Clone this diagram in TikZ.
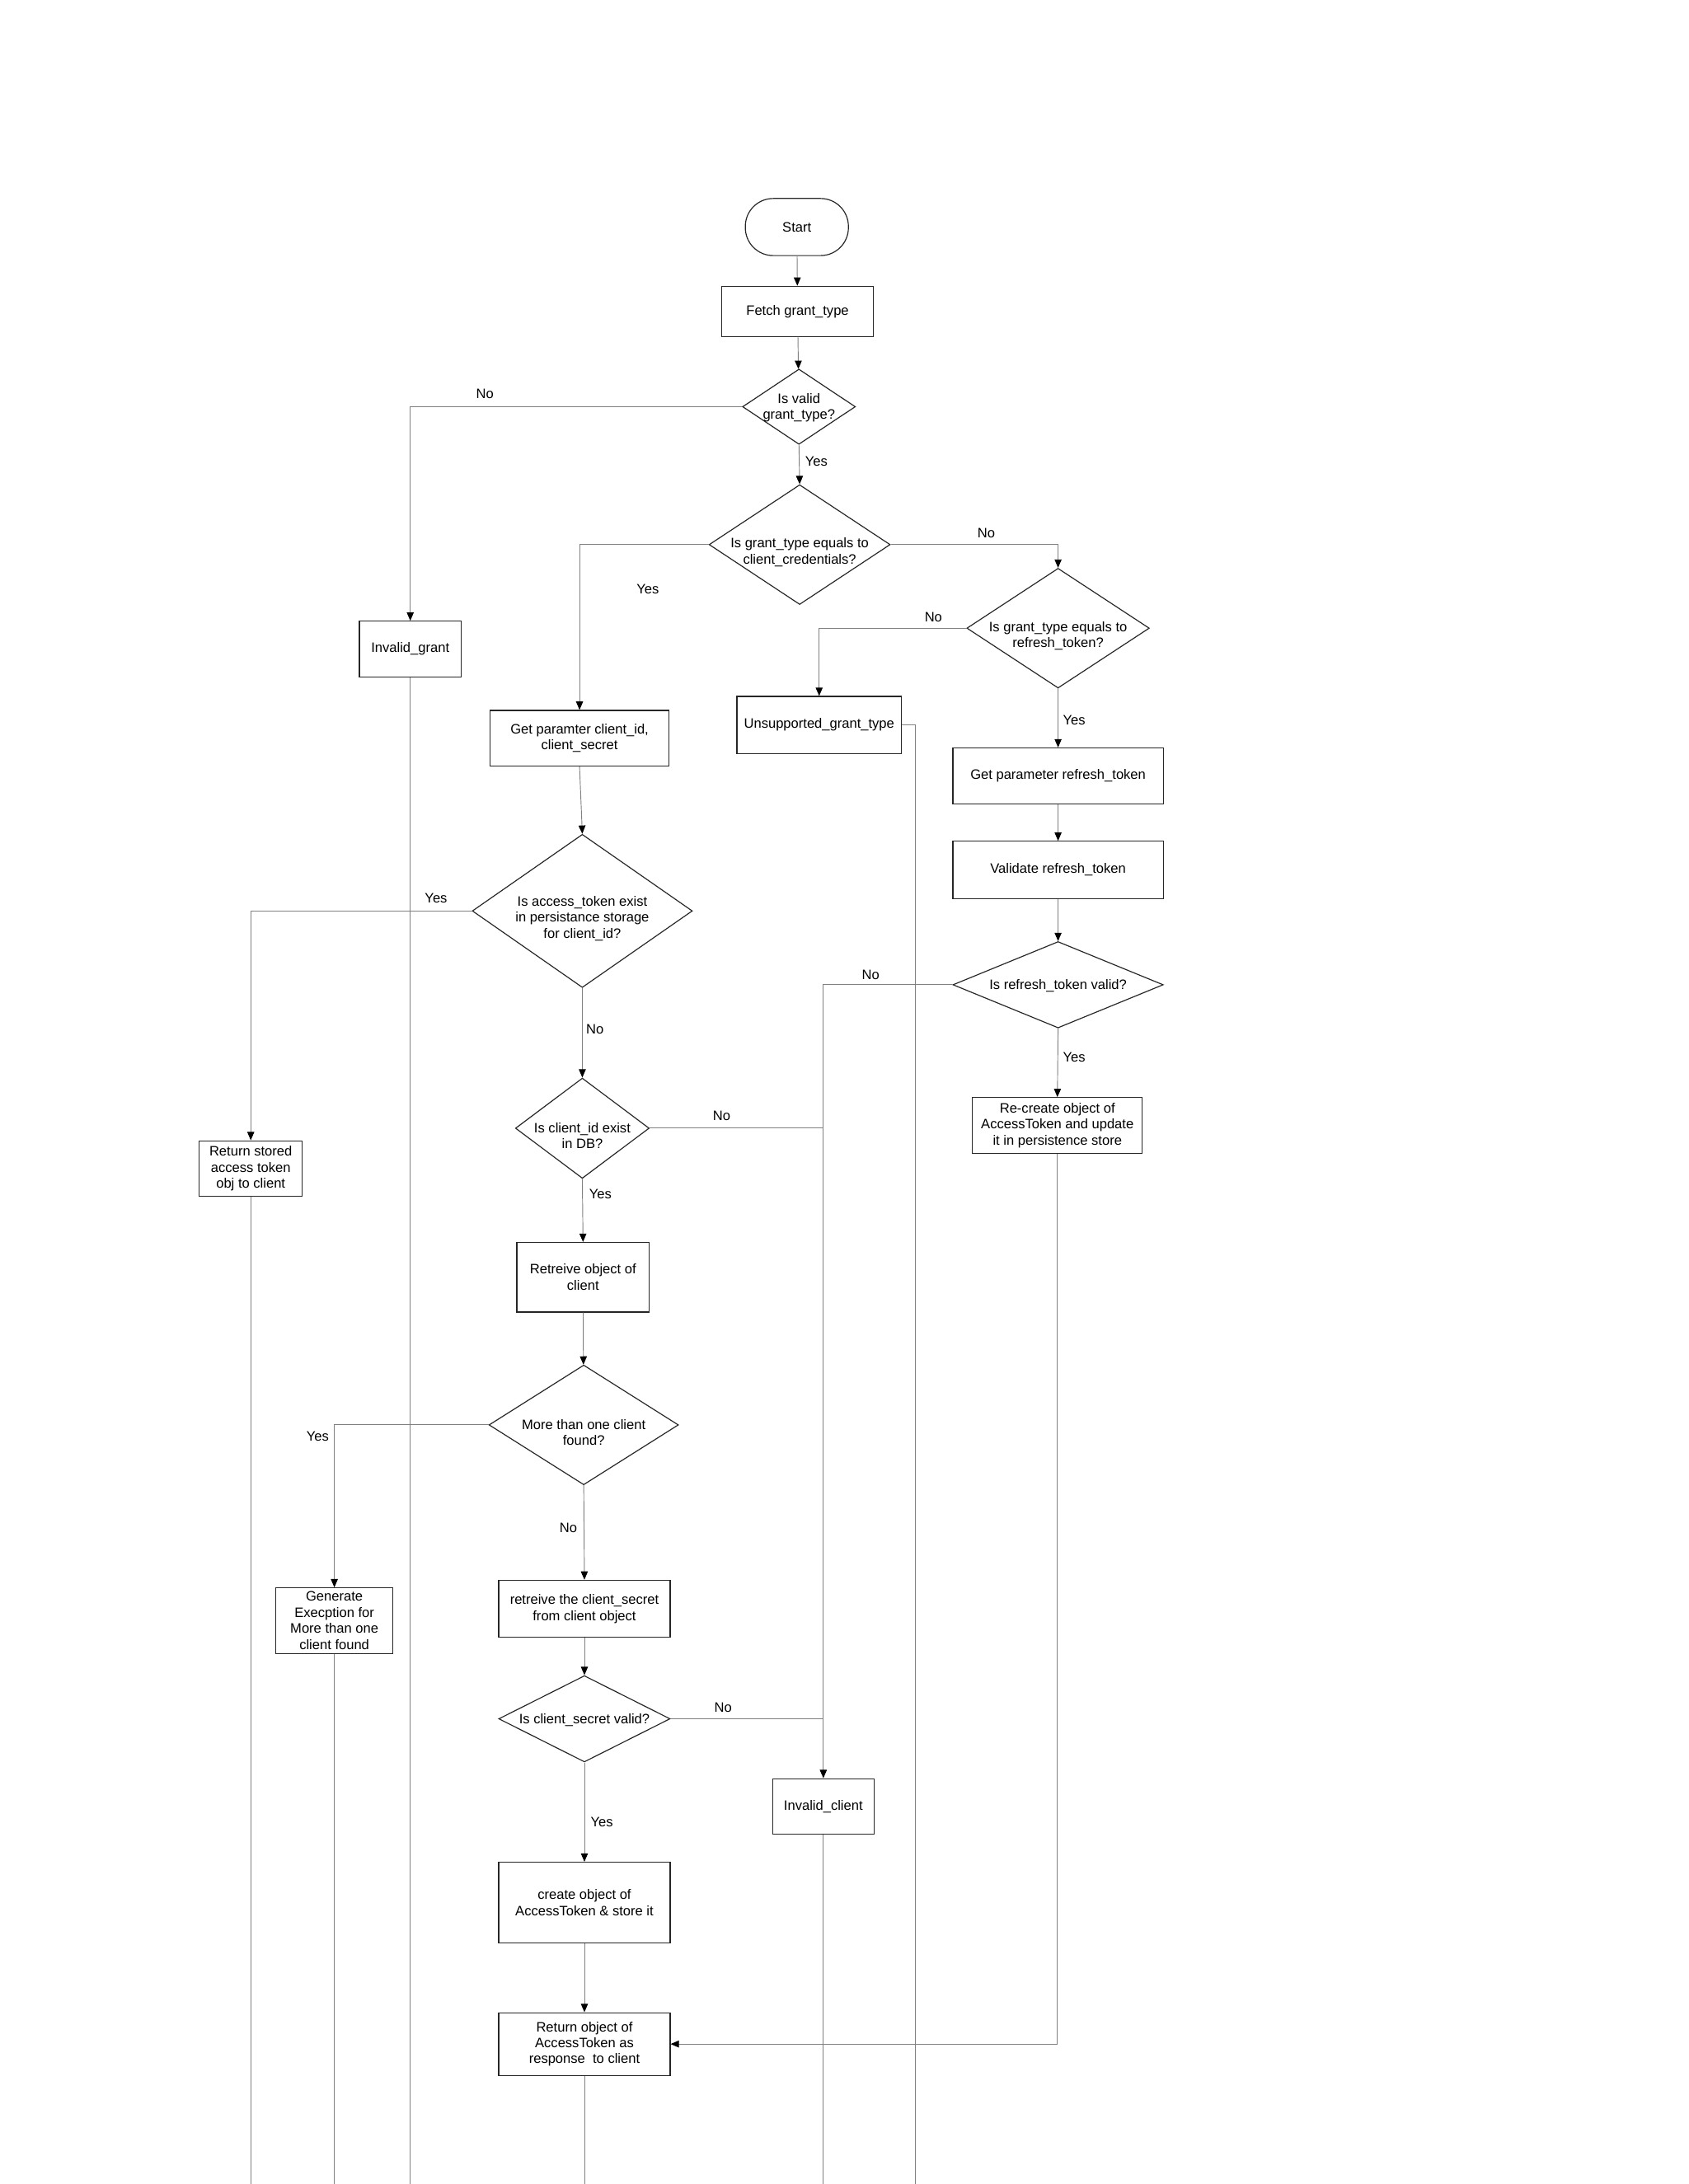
\documentclass[tikz,border=0pt]{standalone}
\usepackage{fontspec}
\setmainfont{Liberation Sans}
\usetikzlibrary{shapes.geometric,arrows.meta}
\definecolor{boxcol}{HTML}{262626}
\definecolor{linecol}{HTML}{808080}
\newcommand{\lblfont}{\fontsize{9.8}{11.5}\selectfont}
\begin{document}
\begin{tikzpicture}[x=1pt,y=-1pt,
  box/.style={draw=boxcol, line width=0.7pt, rectangle, inner sep=0pt, align=center, font=\lblfont},
  dec/.style={draw=boxcol, line width=0.7pt, diamond, inner sep=0pt},
  conn/.style={draw=linecol, line width=0.55pt},
  arr/.style={conn, -{Triangle[length=6pt,width=5pt,color=black]}},
  tag/.style={font=\lblfont, inner sep=0pt, align=center},
  low/.style={tag, yshift=-5.5pt},
]
\path[fill=white] (0,0) rectangle (1212,1568);
\useasboundingbox (0,0) rectangle (1212,1568);

% nodes
\node[box, rounded corners=20pt, minimum width=74pt, minimum height=41pt] (start) at (572,163) {Start};
\node[box, minimum width=109pt, minimum height=36pt] (fetch) at (572.5,223.5) {Fetch grant\_type};
\node[dec, minimum width=81pt, minimum height=54pt, label={[tag, yshift=-0.8pt]center:{Is valid\\grant\_type?}}] (valid) at (573.5,292) {};
\node[dec, minimum width=130pt, minimum height=86pt, label={[low]center:{Is grant\_type equals to\\client\_credentials?}}] (cc) at (574,391) {};
\node[dec, minimum width=131pt, minimum height=86pt, label={[low]center:{Is grant\_type equals to\\refresh\_token?}}] (rt) at (759.5,451) {};
\node[box, minimum width=73pt, minimum height=40pt] (invgrant) at (294.5,466) {Invalid\_grant};
\node[box, minimum width=118pt, minimum height=41pt] (unsup) at (588,520.5) {Unsupported\_grant\_type};
\node[box, minimum width=128pt, minimum height=40pt] (getcid) at (416,530) {Get paramter client\_id,\\client\_secret};
\node[box, minimum width=151pt, minimum height=40pt] (getrt) at (759.5,557) {Get parameter refresh\_token};
\node[box, minimum width=151pt, minimum height=41pt] (valrt) at (759.5,624.5) {Validate refresh\_token};
\node[dec, minimum width=158pt, minimum height=110pt, label={[low]center:{Is access\_token exist\\in persistance storage\\for client\_id?}}] (atex) at (418,654) {};
\node[dec, minimum width=151pt, minimum height=62pt, label={[tag, yshift=-0.8pt]center:{Is refresh\_token valid?}}] (rtvalid) at (759.5,707) {};
\node[box, minimum width=122pt, minimum height=40pt] (recreate) at (759,808) {Re-create object of\\AccessToken and update\\it in persistence store};
\node[dec, minimum width=96pt, minimum height=72pt, label={[low]center:{Is client\_id exist\\in DB?}}] (cidb) at (418,810) {};
\node[box, minimum width=74pt, minimum height=40pt] (retstored) at (180,839) {Return stored\\access token\\obj to client};
\node[box, minimum width=95pt, minimum height=50pt] (retr) at (418.5,917) {Retreive object of\\client};
\node[dec, minimum width=136pt, minimum height=86pt, label={[low]center:{More than one client\\found?}}] (more) at (419,1023) {};
\node[box, minimum width=84pt, minimum height=47pt] (gen) at (240,1163.5) {Generate\\Execption for\\More than one\\client found};
\node[box, minimum width=123pt, minimum height=41pt] (rsec) at (419.5,1155) {retreive the client\_secret\\from client object};
\node[dec, minimum width=123pt, minimum height=62pt, label={[tag, yshift=-0.8pt]center:{Is client\_secret valid?}}] (secvalid) at (419.5,1234) {};
\node[box, minimum width=73pt, minimum height=40pt] (invclient) at (591,1297) {Invalid\_client};
\node[box, minimum width=123pt, minimum height=58pt] (create) at (419.5,1366) {create object of\\AccessToken \& store it};
\node[box, minimum width=123pt, minimum height=45pt] (retobj) at (419.5,1467.5) {Return object of\\AccessToken as\\response~ to client};

\coordinate (bot) at (0,1568);
\coordinate (ujog) at (657,520.5);

% connectors
\draw[arr] (start) -- (fetch);
\draw[arr] (fetch) -- (valid);
\draw[arr] (valid.west) -| (invgrant.north);
\draw[arr] (valid.south) -- (cc.north);
\draw[arr] (cc.west) -| (getcid.north);
\draw[arr] (cc.east) -| (rt.north);
\draw[arr] (rt.west) -| (unsup.north);
\draw[arr] (rt.south) -- (getrt.north);
\draw[arr] (getrt) -- (valrt);
\draw[arr] (valrt) -- (rtvalid);
\draw[arr] (getcid.south) -- (atex.north);
\draw[arr] (atex.west) -| (retstored.north);
\draw[arr] (atex.south) -- (cidb.north);
\draw[arr] (rtvalid.west) -| (invclient.north);
\draw[arr] (rtvalid.south) -- (recreate.north);
\draw[conn] (cidb.east) -- (cidb.east -| invclient.north);
\draw[arr] (cidb.south) -- (retr.north);
\draw[arr] (retr) -- (more);
\draw[arr] (more.west) -| (gen.north);
\draw[arr] (more.south) -- (rsec.north);
\draw[arr] (rsec) -- (secvalid);
\draw[conn] (secvalid.east) -- (secvalid.east -| invclient.north);
\draw[arr] (secvalid.south) -- (create.north);
\draw[arr] (create) -- (retobj);
\draw[arr] (recreate.south) |- (retobj.east);

\draw[conn] (invgrant.south) -- (invgrant.south |- bot);
\draw[conn] (unsup.east) -- (ujog) -- (ujog |- bot);
\draw[conn] (retstored.south) -- (retstored.south |- bot);
\draw[conn] (gen.south) -- (gen.south |- bot);
\draw[conn] (invclient.south) -- (invclient.south |- bot);
\draw[conn] (retobj.south) -- (retobj.south |- bot);

% labels
\node[tag] (l1) at (348,283) {No};
\node[tag] (l2) at (586,331) {Yes};
\node[tag] (l3) at (465,423) {Yes};
\node[tag] (l4) at (708,383) {No};
\node[tag] (l5) at (670,443) {No};
\node[tag] (l6) at (771,517) {Yes};
\node[tag] (l7) at (313,645) {Yes};
\node[tag] (l8) at (427,739) {No};
\node[tag] (l9) at (625,700) {No};
\node[tag] (l10) at (771,759) {Yes};
\node[tag] (l11) at (518,801) {No};
\node[tag] (l12) at (431,857) {Yes};
\node[tag] (l13) at (228,1031) {Yes};
\node[tag] (l14) at (408,1097) {No};
\node[tag] (l15) at (519,1226) {No};
\node[tag] (l16) at (432,1308) {Yes};
\end{tikzpicture}
\end{document}
